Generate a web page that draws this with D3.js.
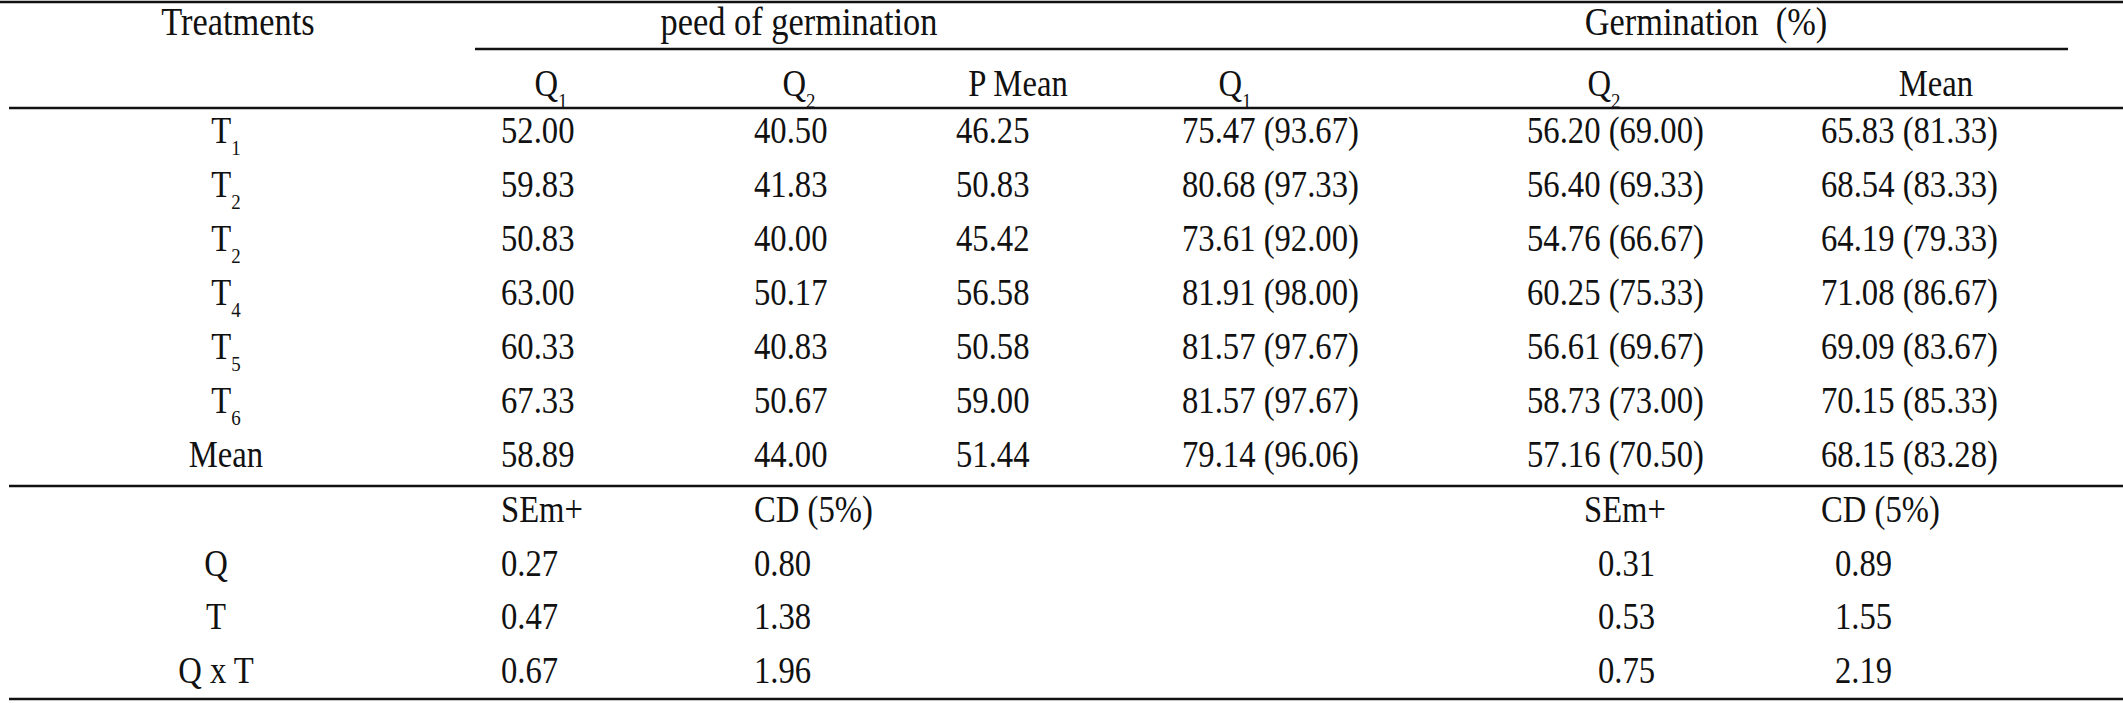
<!DOCTYPE html>
<html>
<head>
<meta charset="utf-8">
<script src="https://cdn.jsdelivr.net/npm/d3@7"></script>
<style>
body { margin: 0; background: #fff; }
svg text { font-family: 'Liberation Serif', 'DejaVu Serif', 'Times New Roman', serif; fill: #111; }
</style>
</head>
<body>
<div id="main"></div>
<script>
const ctx = {
    w: 2123,
    h: 703,
    fontSize: 38,
    subSize: 22,
};

// data
const groupHeaders = ["peed of germination", "Germination  (%)"];
const colHeaders = [["Q", "1"], ["Q", "2"], ["P Mean", ""], ["Q", "1"], ["Q", "2"], ["Mean", ""]];
const treatments = [["T", "1"], ["T", "2"], ["T", "2"], ["T", "4"], ["T", "5"], ["T", "6"], ["Mean", ""]];
const speedQ1 = ["52.00", "59.83", "50.83", "63.00", "60.33", "67.33", "58.89"];
const speedQ2 = ["40.50", "41.83", "40.00", "50.17", "40.83", "50.67", "44.00"];
const speedMean = ["46.25", "50.83", "45.42", "56.58", "50.58", "59.00", "51.44"];
const germQ1 = ["75.47 (93.67)", "80.68 (97.33)", "73.61 (92.00)", "81.91 (98.00)", "81.57 (97.67)", "81.57 (97.67)", "79.14 (96.06)"];
const germQ2 = ["56.20 (69.00)", "56.40 (69.33)", "54.76 (66.67)", "60.25 (75.33)", "56.61 (69.67)", "58.73 (73.00)", "57.16 (70.50)"];
const germMean = ["65.83 (81.33)", "68.54 (83.33)", "64.19 (79.33)", "71.08 (86.67)", "69.09 (83.67)", "70.15 (85.33)", "68.15 (83.28)"];
const statRows = ["Q", "T", "Q x T"];
const statHeaders = ["SEm+", "CD (5%)"];
const speedSEm = ["0.27", "0.47", "0.67"];
const speedCD = ["0.80", "1.38", "1.96"];
const germSEm = ["0.31", "0.53", "0.75"];
const germCD = ["0.89", "1.55", "2.19"];

const svg = d3.select("#main").append("svg")
    .attr("width", ctx.w).attr("height", ctx.h)
    .attr("font-family", "'Liberation Serif', 'DejaVu Serif', serif");

// row baselines
const rowY = d3.scaleLinear().domain([0, 6]).range([143, 467]);
const statY = d3.scaleLinear().domain([0, 3]).range([522, 683]);
const colLeft = [501, 754, 956, 1182, 1527, 1821];
const colCenter = [551, 799, 1018, 1235, 1604, 1936];
const squeeze = 0.86; // reference type is a narrow Times

function hline(x1, x2, y, sw) {
    svg.append("line").attr("x1", x1).attr("x2", x2).attr("y1", y).attr("y2", y)
        .attr("stroke", "#111").attr("stroke-width", sw);
}
hline(0, ctx.w, 2, 2.5);
hline(475, 2068, 49, 2.5);
hline(9, ctx.w, 108, 2.5);
hline(9, ctx.w, 486, 2.5);
hline(9, ctx.w, 699, 2.5);

// text squeezed horizontally around its anchor point
function label(x, y, main, sub, anchor, size) {
    const g = svg.append("g").attr("transform", `translate(${x},${y}) scale(${squeeze},1)`);
    const t = g.append("text")
        .attr("font-size", size || ctx.fontSize).attr("text-anchor", anchor || "middle");
    t.append("tspan").text(main);
    if (sub) {
        t.append("tspan").attr("font-size", ctx.subSize).attr("dy", 12).text(sub);
    }
    return t;
}

// headers
label(238, 35, "Treatments", "", "middle", 40);
label(799, 35, groupHeaders[0], "", "middle", 40);
label(1706, 35, groupHeaders[1], "", "middle", 40).style("white-space", "pre");
colHeaders.forEach((h, i) => label(colCenter[i], 96, h[0], h[1]));

// body
treatments.forEach((t, i) => label(226, rowY(i), t[0], t[1]));
[speedQ1, speedQ2, speedMean, germQ1, germQ2, germMean].forEach(function (col, c) {
    col.forEach((d, i) => label(colLeft[c], rowY(i), d, "", "start"));
});

// stats
label(colLeft[0], 522, statHeaders[0], "", "start");
label(colLeft[1], 522, statHeaders[1], "", "start");
label(1584, 522, statHeaders[0], "", "start");
label(1821, 522, statHeaders[1], "", "start");
statRows.forEach((r, i) => label(216, statY(i + 1), r, ""));
const statCols = [[speedSEm, 501], [speedCD, 754], [germSEm, 1598], [germCD, 1835]];
statCols.forEach(function (sc) {
    sc[0].forEach((d, i) => label(sc[1], statY(i + 1), d, "", "start"));
});
</script>
</body>
</html>
